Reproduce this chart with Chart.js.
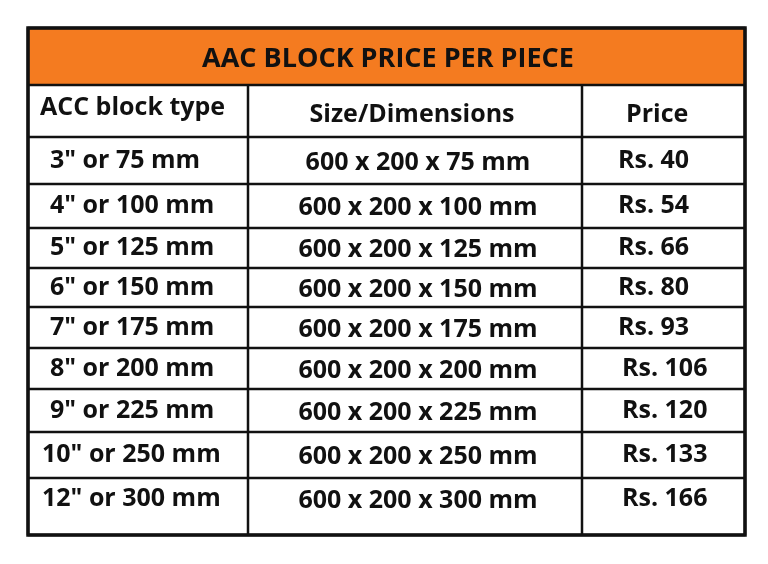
<!DOCTYPE html>
<html lang="en">
<head>
<meta charset="UTF-8">
<title>AAC Block Price Per Piece</title>
<script src="https://cdn.jsdelivr.net/npm/chart.js"></script>
<style>
  body { margin: 0; background: #fff; }
  #wrap { width: 768px; height: 564px; }
</style>
</head>
<body>
<div id="wrap"><canvas id="c"></canvas></div>
<script>
// table contents
var title = 'AAC BLOCK PRICE PER PIECE';
var headers = ['ACC block type', 'Size/Dimensions', 'Price'];
var blockTypes = ['3" or 75 mm', '4" or 100 mm', '5" or 125 mm', '6" or 150 mm', '7" or 175 mm',
                  '8" or 200 mm', '9" or 225 mm', '10" or 250 mm', '12" or 300 mm'];
var sizes = ['600 x 200 x 75 mm', '600 x 200 x 100 mm', '600 x 200 x 125 mm', '600 x 200 x 150 mm',
             '600 x 200 x 175 mm', '600 x 200 x 200 mm', '600 x 200 x 225 mm', '600 x 200 x 250 mm',
             '600 x 200 x 300 mm'];
var prices = [40, 54, 66, 80, 93, 106, 120, 133, 166];

// grid lines in axis units (table drawn on linear scales)
var colEdges = [0, 220, 554, 717];
var rowEdges = [0, 57, 109, 156, 200, 240, 279, 320, 361, 404, 450, 507];

var tablePlugin = {
  id: 'table',
  afterDraw: function (chart) {
    var ctx = chart.ctx, xs = chart.scales.x, ys = chart.scales.y;
    var X = function (v) { return xs.getPixelForValue(v); };
    var Y = function (v) { return ys.getPixelForValue(v); };
    ctx.save();
    // title band
    ctx.fillStyle = '#f47b20';
    ctx.fillRect(X(0), Y(0), X(717) - X(0), Y(rowEdges[1]) - Y(0));
    // lines
    ctx.strokeStyle = '#111';
    ctx.lineWidth = 2.5;
    rowEdges.forEach(function (r) {
      ctx.beginPath(); ctx.moveTo(X(0), Y(r)); ctx.lineTo(X(717), Y(r)); ctx.stroke();
    });
    colEdges.forEach(function (c, i) {
      ctx.beginPath();
      ctx.moveTo(X(c), Y(i === 0 || i === 3 ? 0 : rowEdges[1]));
      ctx.lineTo(X(c), Y(507)); ctx.stroke();
    });
    ctx.lineWidth = 3.5;
    ctx.strokeRect(X(0), Y(0), X(717) - X(0), Y(507) - Y(0));
    // text
    ctx.fillStyle = '#111';
    ctx.textBaseline = 'middle';
    var mid = function (i) { return Y((rowEdges[i] + rowEdges[i + 1]) / 2); };
    ctx.font = 'bold 27px "Open Sans", "Liberation Sans", sans-serif';
    ctx.textAlign = 'center';
    ctx.fillText(title, X(360), mid(0) + 3);
    ctx.font = 'bold 25px "Open Sans", "Liberation Sans", sans-serif';
    ctx.textAlign = 'left';
    ctx.fillText(headers[0], X(12), mid(1) - 3);
    ctx.textAlign = 'center';
    ctx.fillText(headers[1], X(384), mid(1) + 4);
    ctx.textAlign = 'left';
    ctx.fillText(headers[2], X(598), mid(1) + 4);
    for (var i = 0; i < blockTypes.length; i++) {
      var y = mid(i + 2) + (i === 8 ? -8 : 0);
      ctx.textAlign = 'left';
      ctx.fillText(blockTypes[i], X(blockTypes[i].length > 12 ? 14 : 22), y);
      ctx.textAlign = 'center';
      ctx.fillText(sizes[i], X(390), y + 2);
      ctx.textAlign = 'left';
      ctx.fillText('Rs. ' + prices[i], X(prices[i] >= 100 ? 594 : 590), y);
    }
    ctx.restore();
  }
};

new Chart(document.getElementById('c'), {
  type: 'scatter',
  data: { datasets: [{ data: [], pointRadius: 0 }] },
  options: {
    responsive: true, maintainAspectRatio: false, animation: false,
    layout: { padding: { left: 28, right: 23, top: 28, bottom: 29 } },
    plugins: { legend: { display: false }, tooltip: { enabled: false } },
    scales: {
      x: { type: 'linear', min: 0, max: 717, display: false },
      y: { type: 'linear', min: 0, max: 507, reverse: true, display: false }
    }
  },
  plugins: [tablePlugin]
});
</script>
</body>
</html>
